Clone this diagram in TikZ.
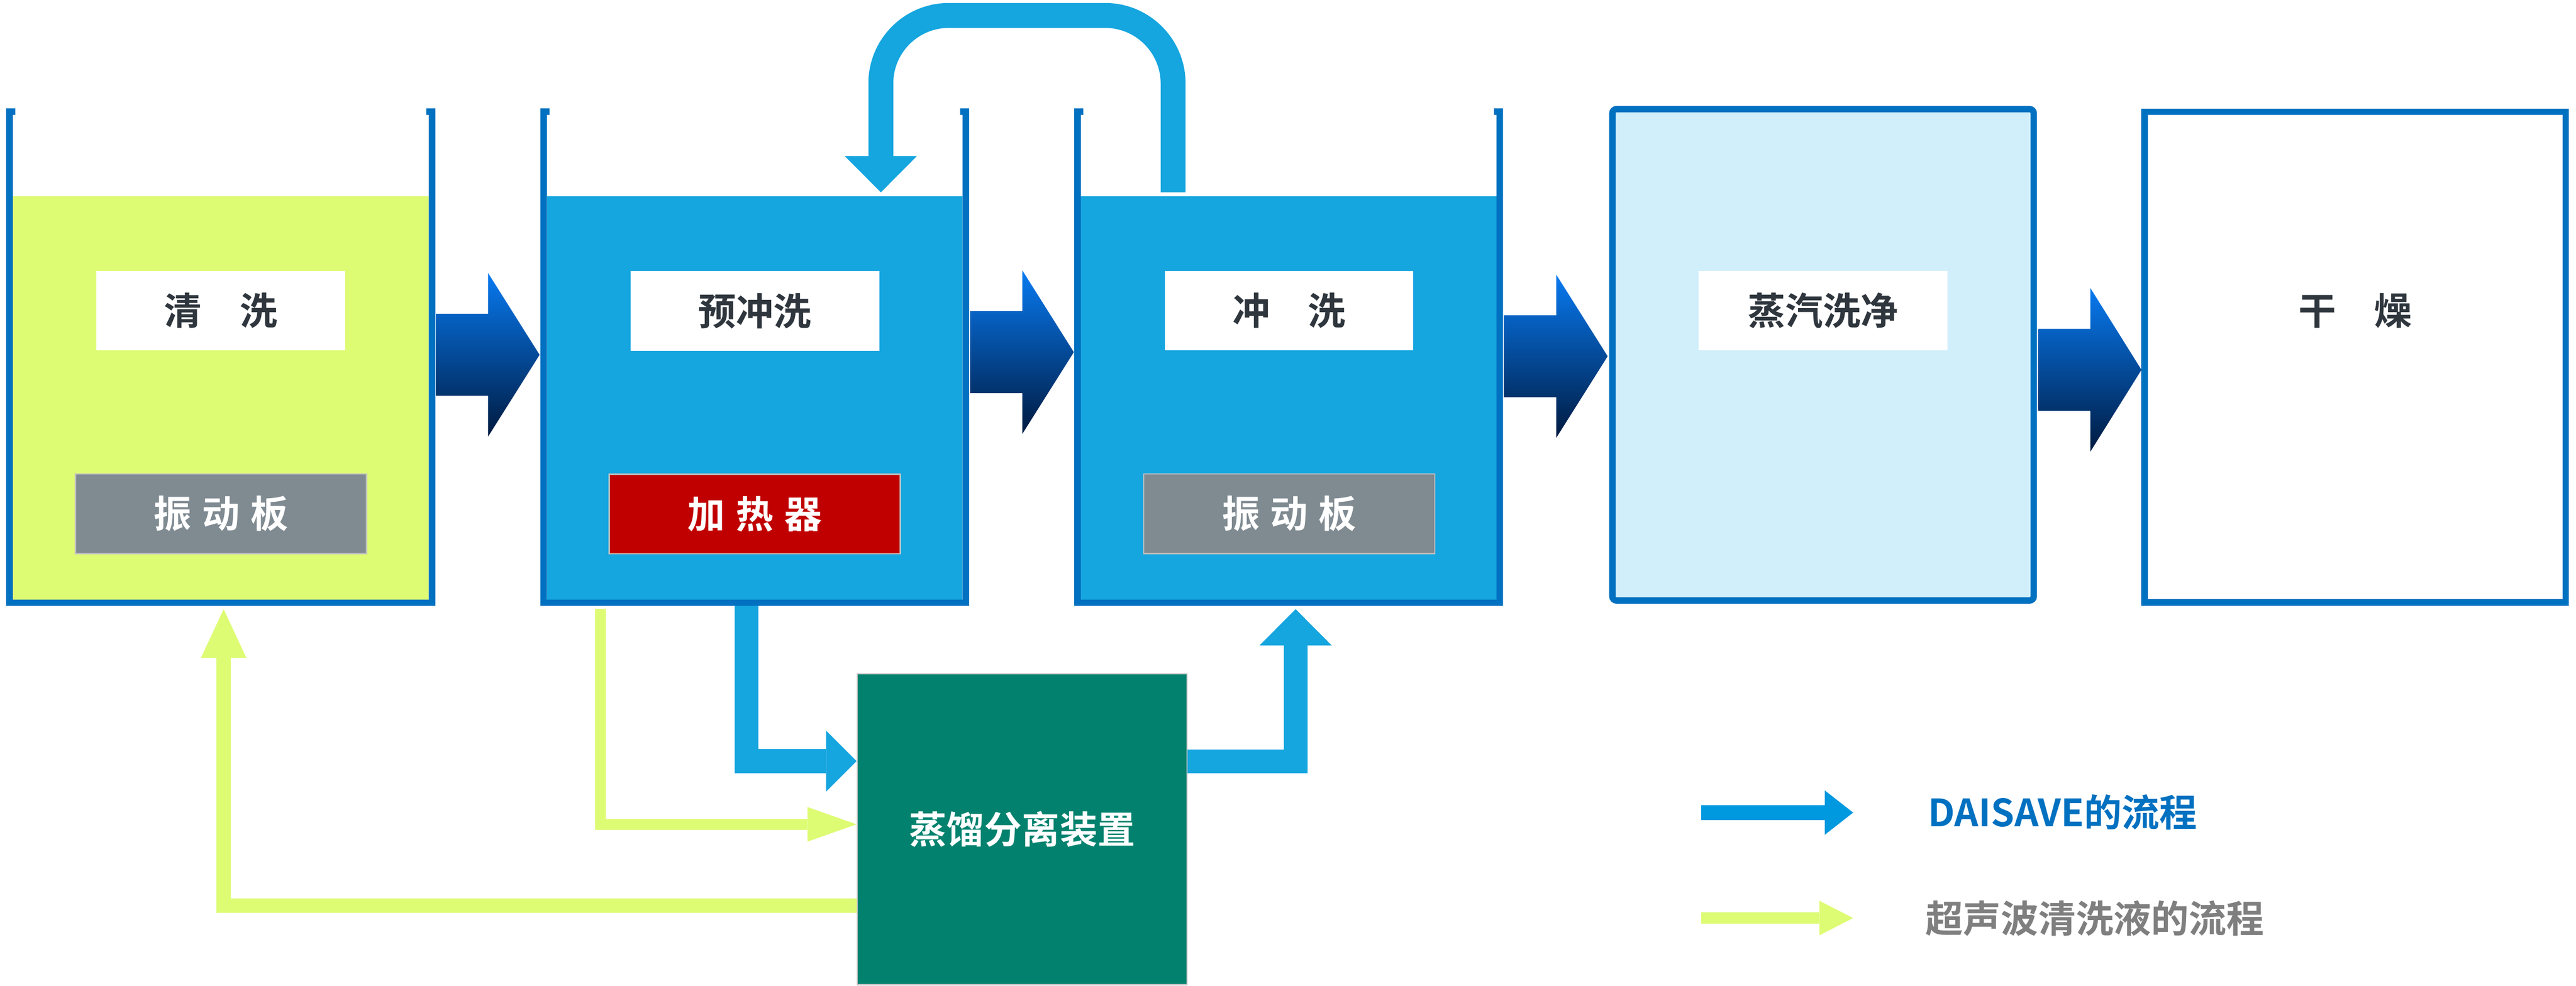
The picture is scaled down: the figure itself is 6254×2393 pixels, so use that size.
\documentclass[tikz,border=0pt]{standalone}
\usepackage{fontspec}
\setmainfont{Noto Sans CJK SC}[BoldFont={Noto Sans CJK SC Bold}]
\usetikzlibrary{arrows.meta,calc}
\definecolor{tankborder}{RGB}{0,112,192}
\definecolor{liqblue}{RGB}{21,165,223}
\definecolor{liqgreen}{RGB}{222,251,116}
\definecolor{steamblue}{RGB}{209,239,251}
\definecolor{plategray}{RGB}{127,138,145}
\definecolor{heatred}{RGB}{192,0,0}
\definecolor{distteal}{RGB}{2,130,110}
\definecolor{txtdark}{RGB}{47,54,61}
\definecolor{edgegray}{RGB}{191,191,191}
\definecolor{legblue}{RGB}{0,153,223}
\definecolor{legtxtblue}{RGB}{0,112,192}
\definecolor{legtxtgray}{RGB}{127,127,127}
\definecolor{gradA}{RGB}{8,122,240}
\definecolor{gradB}{RGB}{0,52,115}
\definecolor{gradC}{RGB}{0,26,64}
\newcommand\opentank[3]{%
  \fill[#3] (#1+16,477) rectangle (#2-16,1456);
  \fill[tankborder] (#1,263) -- (#1+22,263) -- (#1+22,279) -- (#1+16,279) -- (#1+16,1456)
    -- (#2-16,1456) -- (#2-16,279) -- (#2-22,279) -- (#2-22,263) -- (#2,263) -- (#2,1471)
    -- (#1,1471) -- cycle;}
\newcommand\gradarrow[4]{%
  \shade[top color=gradA, middle color=gradB, bottom color=gradC]
    (#1,#4-99.5) -- (#2,#4-99.5) -- (#2,#4-198.5) -- (#3,#4) -- (#2,#4+198.5)
    -- (#2,#4+99.5) -- (#1,#4+99.5) -- cycle;}
\begin{document}
\begin{tikzpicture}[x=0.1mm, y=-0.1mm,
  txt/.style={font=\bfseries\fontsize{26pt}{31pt}\selectfont},
  lbl/.style={txt, fill=white, text=txtdark, inner sep=0pt, minimum width=60.4mm, minimum height=19.3mm},
  plate/.style={txt, fill=plategray, draw=edgegray, line width=0.3mm, text=white, inner sep=0pt, minimum width=70.7mm, minimum height=19.3mm},
  heater/.style={plate, fill=heatred},
  bluepipe/.style={draw=liqblue, line width=#1, line join=miter},
  greenpipe/.style={draw=liqgreen, line width=#1, line join=miter},
  tip/.style n args={2}{-{Triangle[width=#1, length=#2, line width=0pt]}}
]
\useasboundingbox (0,0) rectangle (6254,2393);

% open tanks
\opentank{15}{1057}{liqgreen}
\opentank{1312}{2353}{liqblue}
\opentank{2608}{3649}{liqblue}
\node[inner sep=0pt, minimum width=104.2mm, minimum height=120.8mm] (t1) at (536,867) {};
\node[inner sep=0pt, minimum width=104.1mm, minimum height=121mm] (t2) at (1832.5,867) {};
\node[inner sep=0pt, minimum width=104.1mm, minimum height=120.9mm] (t3) at (3128.5,867.5) {};

% closed chambers
\node[draw=tankborder, line width=1.55mm, fill=steamblue, rounded corners=1mm, inner sep=0pt,
      minimum width=102.3mm, minimum height=119.3mm] (t4) at (4426,861.5) {};
\node[draw=tankborder, line width=1.55mm, fill=white, inner sep=0pt,
      minimum width=102.25mm, minimum height=119.15mm] (t5) at (5717.75,867.25) {};

% labels inside tanks
\node[lbl] (l1) at (536,754.5) {清　洗};
\node[plate] (p1) at (536.5,1247.5) {振\hspace{2.6mm}动\hspace{2.6mm}板};
\node[lbl] (l2) at (1832.5,755) {预冲洗};
\node[heater] (h2) at (1832.5,1248) {加\hspace{2.6mm}热\hspace{2.6mm}器};
\node[lbl] (l3) at (3129.5,754.5) {冲　洗};
\node[plate] (p3) at (3130,1247.5) {振\hspace{2.6mm}动\hspace{2.6mm}板};
\node[lbl] (l4) at (4426,754.5) {蒸汽洗净};
\node[txt, text=txtdark, inner sep=0pt] (l5) at (5718,755) {干　燥};

% process arrows between tanks
\gradarrow{1059}{1185}{1310}{861.5}
\gradarrow{2355}{2482}{2607}{855}
\gradarrow{3651}{3778}{3903}{865}
\gradarrow{4949}{5075}{5199}{898}

% distillation unit
\node[txt, fill=distteal, draw=edgegray, line width=0.3mm, text=white, inner sep=0pt,
      minimum width=80.1mm, minimum height=75.5mm] (dist) at (2481.5,2013.5) {蒸馏分离装置};

% loop from rinse back to pre-rinse
\coordinate (lpA) at (2848,467);
\coordinate (lpB) at (2138.5,467);
\draw[bluepipe=6.05mm, rounded corners=16.5mm, tip={17.5mm}{8.8mm}]
  (lpA) -- (2848,37.5) -- (2138.5,37.5) -- (lpB);

% pre-rinse -> distillation (blue)
\coordinate (b2) at (1812,1471);
\draw[bluepipe=5.8mm, tip={14.8mm}{7.4mm}] (b2) |- (dist.west |- 0,1848);
% distillation -> rinse (blue)
\coordinate (b3) at (3145.5,1479);
\draw[bluepipe=5.75mm, tip={17.5mm}{8.8mm}] (dist.east |- 0,1849) -| (b3);
% pre-rinse -> distillation (green)
\coordinate (g2) at (1458,1479);
\draw[greenpipe=2.6mm, tip={8.4mm}{11.9mm}] (g2) |- (dist.west |- 0,2001.5);
% distillation -> cleaning (green)
\coordinate (g1) at (543,1479);
\draw[greenpipe=3.5mm, tip={11mm}{11.8mm}] (dist.west |- 0,2199) -| (g1);

% legend
\coordinate (lb1) at (4130,1973);
\coordinate (lb2) at (4499,1973);
\draw[draw=legblue, line width=3.6mm, tip={10.8mm}{6.9mm}] (lb1) -- (lb2);
\node[txt, text=legtxtblue, anchor=west, inner sep=0pt] (lt1) at (4680,1972) {DAISAVE的流程};
\coordinate (lg1) at (4130,2229);
\coordinate (lg2) at (4499,2229);
\draw[draw=liqgreen, line width=2.8mm, tip={8.4mm}{8.2mm}] (lg1) -- (lg2);
\node[txt, text=legtxtgray, anchor=west, inner sep=0pt] (lt2) at (4674,2230) {超声波清洗液的流程};
\end{tikzpicture}
\end{document}
